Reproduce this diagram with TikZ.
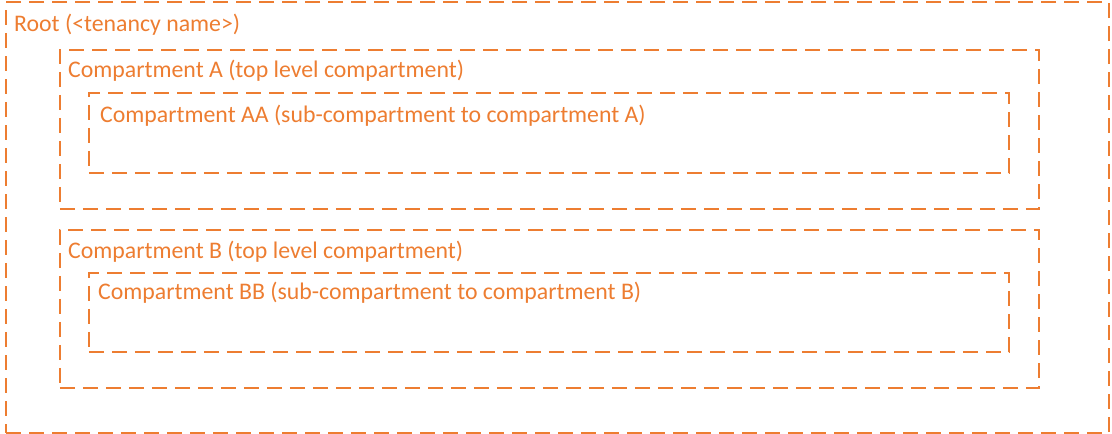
\documentclass[tikz,border=0pt]{standalone}
\usepackage{fontspec}
\setmainfont{Carlito}
\usetikzlibrary{positioning}
\definecolor{tenancyorange}{RGB}{237,125,49}
\tikzset{
  frame/.style={draw=tenancyorange, dash pattern=on 15pt off 8pt, line width=1.7pt, inner sep=0pt, anchor=north west},
  title/.style={text=tenancyorange, font=\fontsize{23.8}{28}\selectfont, inner sep=0pt, anchor=base west},
}

\begin{document}
\begin{tikzpicture}[x=1pt,y=-1pt]
    \useasboundingbox (0,0) rectangle (1112,434);
    \path (  5,  1) node [frame, line width=2pt, minimum width=1103pt, minimum height=431pt] (root) {};
    \path ( 59, 49) node [frame, minimum width=979pt, minimum height=159pt] (compA) {};
    \path ( 88, 92) node [frame, minimum width=920pt, minimum height=80pt] (compAA) {};
    \path ( 59,229) node [frame, minimum width=979pt, minimum height=158pt] (compB) {};
    \path ( 88,272) node [frame, minimum width=920pt, minimum height=79pt] (compBB) {};
    \path ([xshift=9pt,yshift=-30pt]root.north west) node [title] (rootname) {Root (<tenancy name>)};
    \path ([xshift=9pt,yshift=-28pt]compA.north west) node [title] (compAname) {Compartment A (top level compartment)};
    \path ([xshift=12pt,yshift=-30pt]compAA.north west) node [title] (compAAname) {Compartment AA (sub-compartment to compartment A)};
    \path ([xshift=9pt,yshift=-29pt]compB.north west) node [title] (compBname) {Compartment B (top level compartment)};
    \path ([xshift=10pt,yshift=-27pt]compBB.north west) node [title] (compBBname) {Compartment BB (sub-compartment to compartment B)};
\end{tikzpicture}
\end{document}
